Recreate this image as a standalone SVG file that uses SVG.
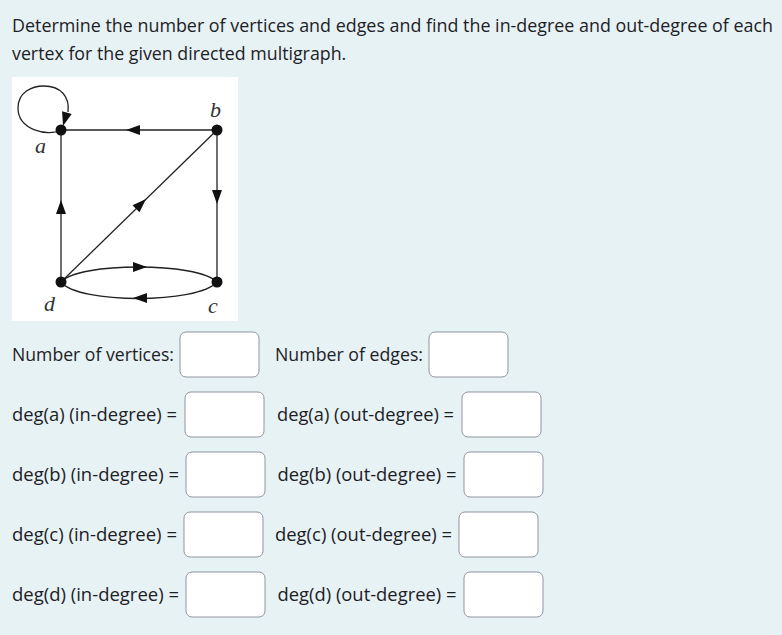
<svg xmlns="http://www.w3.org/2000/svg" width="782" height="635" viewBox="0 0 782 635">
<style>
.t{font-family:"Open Sans","Liberation Sans",sans-serif;font-size:17.8px;fill:#1d2125}
.box{fill:#fff;stroke:#8f959e;stroke-width:1}
.e{fill:none;stroke:#222;stroke-width:1.3}
.lbl{font-family:"Liberation Serif",serif;font-style:italic;font-size:22px;fill:#333}
.v{fill:#111}
</style>
<defs>
<path id="ah" d="M0,0 L-14,-5 L-14,5 Z" fill="#111"/>
</defs>
<rect width="782" height="635" fill="#e7f2f5"/>
<text class="t" x="12" y="31.5" textLength="761" lengthAdjust="spacingAndGlyphs">Determine the number of vertices and edges and find the in-degree and out-degree of each</text>
<text class="t" x="12" y="60">vertex for the given directed multigraph.</text>
<rect x="12" y="77" width="226" height="244" fill="#fff"/>
<g id="edges">
<path class="e" d="M61,130 C48,137 18,130 18,108 C18,92 32,86 44,86 C60,86 70,96 68,112"/>
<use href="#ah" transform="translate(63,126) rotate(106)"/>
<line class="e" x1="217" y1="130" x2="61" y2="130"/>
<use href="#ah" transform="translate(126,130) rotate(180)"/>
<line class="e" x1="217" y1="130" x2="217" y2="282"/>
<use href="#ah" transform="translate(217,204) rotate(90)"/>
<line class="e" x1="61" y1="282" x2="61" y2="130"/>
<use href="#ah" transform="translate(61,200) rotate(-90)"/>
<line class="e" x1="61" y1="282" x2="217" y2="130"/>
<use href="#ah" transform="translate(146,199) rotate(-44.3)"/>
<path class="e" d="M61,282 C78,262 198,262 217,282"/>
<use href="#ah" transform="translate(147,267)"/>
<path class="e" d="M61,282 C78,304 198,304 217,282"/>
<use href="#ah" transform="translate(133,298) rotate(180)"/>
</g>
<g id="a"><circle class="v" cx="61" cy="130" r="5.5"/><text class="lbl" x="35" y="153">a</text></g>
<g id="b"><circle class="v" cx="217" cy="130" r="5.5"/><text class="lbl" x="210" y="117">b</text></g>
<g id="c"><circle class="v" cx="217" cy="282" r="5.5"/><text class="lbl" x="208" y="313">c</text></g>
<g id="d"><circle class="v" cx="61" cy="282" r="5.5"/><text class="lbl" x="44" y="311">d</text></g>
<g id="form">
<text class="t" x="12" y="361" textLength="162" lengthAdjust="spacingAndGlyphs">Number of vertices:</text>
<rect class="box" x="180" y="332" width="79" height="45" rx="6"/>
<text class="t" x="275" y="361" textLength="148" lengthAdjust="spacingAndGlyphs">Number of edges:</text>
<rect class="box" x="429" y="332" width="79" height="45" rx="6"/>
<text class="t" x="12" y="421" textLength="165" lengthAdjust="spacingAndGlyphs">deg(a) (in-degree) =</text>
<rect class="box" x="185" y="392" width="79" height="45" rx="6"/>
<text class="t" x="277" y="421" textLength="177" lengthAdjust="spacingAndGlyphs">deg(a) (out-degree) =</text>
<rect class="box" x="462" y="392" width="79" height="45" rx="6"/>
<text class="t" x="12" y="481" textLength="167" lengthAdjust="spacingAndGlyphs">deg(b) (in-degree) =</text>
<rect class="box" x="186" y="452" width="79" height="45" rx="6"/>
<text class="t" x="277.5" y="481" textLength="179" lengthAdjust="spacingAndGlyphs">deg(b) (out-degree) =</text>
<rect class="box" x="464" y="452" width="79" height="45" rx="6"/>
<text class="t" x="12" y="541" textLength="165" lengthAdjust="spacingAndGlyphs">deg(c) (in-degree) =</text>
<rect class="box" x="184" y="512" width="79" height="45" rx="6"/>
<text class="t" x="275" y="541" textLength="177" lengthAdjust="spacingAndGlyphs">deg(c) (out-degree) =</text>
<rect class="box" x="459" y="512" width="79" height="45" rx="6"/>
<text class="t" x="12" y="601" textLength="167" lengthAdjust="spacingAndGlyphs">deg(d) (in-degree) =</text>
<rect class="box" x="186" y="572" width="79" height="45" rx="6"/>
<text class="t" x="277.5" y="601" textLength="179" lengthAdjust="spacingAndGlyphs">deg(d) (out-degree) =</text>
<rect class="box" x="464" y="572" width="79" height="45" rx="6"/>
</g>
</svg>
